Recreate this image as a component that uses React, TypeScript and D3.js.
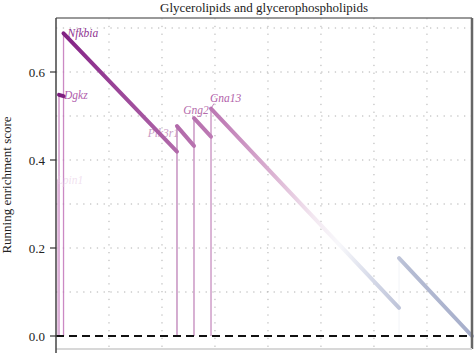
import React from "react";
import * as d3 from "d3";

// ---- data ----
const title = "Glycerolipids and glycerophospholipids";
const yLabel = "Running enrichment score";
const totalRanks = 7850;
const hitRanks = [28, 57, 142, 2283, 2604, 2925, 6473];
const esBefore = [0.0, 0.352, 0.545, 0.419, 0.432, 0.453, 0.064];
const esAfter = [0.355, 0.548, 0.688, 0.477, 0.495, 0.517, 0.177];
const endES = 0.0;
const hitLabels = ["Lpin1", "Dgkz", "Nfkbia", "Pik3r1", "Gng2", "Gna13", ""];
const yTicks = [0.0, 0.2, 0.4, 0.6];
const yGrid = [0.1, 0.2, 0.3, 0.4, 0.5, 0.6, 0.7];
const xGrid = [1000, 2000, 3000, 4000, 5000, 6000, 7000];

// ---- layout / style ----
const W = 474, H = 353;
const left = 56, right = 472, top = 18, bottom = 349;
const labelStyle = [
  { dx: -1, dy: 4, anchor: "start", color: "#e6c8e2", op: 0.55 },
  { dx: 5, dy: 4, anchor: "start", color: "#b160ad", op: 1 },
  { dx: 4, dy: 4, anchor: "start", color: "#8f3391", op: 1 },
  { dx: 2, dy: 11, anchor: "end", color: "#c99bc4", op: 1 },
  { dx: 2, dy: -4, anchor: "middle", color: "#b46cab", op: 1 },
  { dx: -1, dy: -7, anchor: "start", color: "#b262aa", op: 1 },
  { dx: 0, dy: 0, anchor: "start", color: "#eee", op: 1 },
];
const gradStops: [number, string][] = [
  [0, "#7a1a7c"],
  [0.05, "#8a2b8b"],
  [0.3, "#b36cab"],
  [0.4, "#c07eb7"],
  [0.52, "#dbb2d2"],
  [0.62, "#f3e8f1"],
  [0.68, "#f8f8fb"],
  [0.76, "#d5d9e8"],
  [0.85, "#b5bcd3"],
  [1, "#a6aecb"],
];

export default function App() {
  const x = d3.scaleLinear().domain([0, totalRanks]).range([left, right]);
  const y = d3.scaleLinear().domain([0, 0.6]).range([336, 72]);

  const colorScale = d3
    .scaleLinear<string>()
    .domain(gradStops.map((s) => s[0]))
    .range(gradStops.map((s) => s[1]))
    .interpolate(d3.interpolateRgb)
    .clamp(true);
  const colorAt = (px: number) => colorScale((px - left) / (right - left));

  const segs: [number, number, number, number][] = [];
  for (let i = 0; i < hitRanks.length; i++) {
    const r1 = i + 1 < hitRanks.length ? hitRanks[i + 1] : totalRanks;
    const e1 = i + 1 < hitRanks.length ? esBefore[i + 1] : endES;
    segs.push([hitRanks[i], esAfter[i], r1, e1]);
  }
  const line = d3
    .line<[number, number]>()
    .x((d) => x(d[0]))
    .y((d) => y(d[1]));

  const serif = "Liberation Serif";

  return (
    <svg
      width={W}
      height={H}
      style={{ position: "absolute", left: 0, top: 0, background: "#fff" }}
    >
      <defs>
        <linearGradient id="esg" gradientUnits="userSpaceOnUse" x1={left} x2={right} y1={0} y2={0}>
          {gradStops.map((s, i) => (
            <stop key={i} offset={s[0]} stopColor={s[1]} />
          ))}
        </linearGradient>
      </defs>
      <text x={264} y={12} textAnchor="middle" fontFamily={serif} fontSize={13} fill="#222">
        {title}
      </text>
      <text
        transform={`translate(11,185) rotate(-90)`}
        textAnchor="middle"
        fontFamily={serif}
        fontSize={13}
        fill="#222"
      >
        {yLabel}
      </text>
      {yGrid.map((v) => (
        <line key={"hy" + v} x1={left} x2={right} y1={y(v)} y2={y(v)} stroke="#b0b0b0" strokeWidth={1} strokeDasharray="1.3,5.5" />
      ))}
      {xGrid.map((v) => (
        <line key={"vx" + v} x1={x(v)} x2={x(v)} y1={top} y2={bottom} stroke="#b0b0b0" strokeWidth={1} strokeDasharray="1.3,6.5" />
      ))}
      {hitRanks.map((r, i) => (
        <line
          key={"h" + i}
          x1={x(r)}
          x2={x(r)}
          y1={y(0)}
          y2={y(esAfter[i])}
          stroke={i < 3 ? "#c274ba" : colorAt(x(r))}
          strokeOpacity={i === 6 ? 0.15 : i === 0 ? 0.4 : 0.85}
          strokeWidth={1.3}
        />
      ))}
      <line x1={left} x2={right} y1={y(0)} y2={y(0)} stroke="#111" strokeWidth={1.8} strokeDasharray="8,5" />
      {hitLabels.map((l, i) =>
        l ? (
          <text
            key={"l" + i}
            x={x(hitRanks[i]) + labelStyle[i].dx}
            y={y(esAfter[i]) + labelStyle[i].dy}
            textAnchor={labelStyle[i].anchor as any}
            fontFamily={serif}
            fontStyle="italic"
            fontSize={11.5}
            fill={labelStyle[i].color}
            fillOpacity={labelStyle[i].op}
          >
            {l}
          </text>
        ) : null
      )}
      {segs.map((s, i) => (
        <path
          key={"s" + i}
          d={line([
            [s[0], s[1]],
            [s[2], s[3]],
          ]) || ""}
          stroke={i === 0 ? "#e2c4de" : "url(#esg)"}
          strokeOpacity={i === 0 ? 0.5 : 1}
          strokeWidth={i === 0 ? 2 : 4}
          strokeLinecap="round"
          fill="none"
        />
      ))}
      <line x1={x(hitRanks[5])} y1={y(esAfter[5])} x2={x(hitRanks[5]) + 3} y2={y(esAfter[5]) - 5} stroke="#b262aa" strokeWidth={0.8} />
      <line x1={left} x2={right} y1={top} y2={top} stroke="#777" strokeWidth={1.5} />
      <line x1={right} x2={right} y1={top} y2={bottom} stroke="#666" strokeWidth={2.5} />
      <line x1={left} x2={right} y1={bottom} y2={bottom} stroke="#d8d8d8" strokeWidth={2} />
      <line x1={left} x2={left} y1={top} y2={H} stroke="#444" strokeWidth={1.5} />
      {yTicks.map((v) => (
        <g key={"t" + v}>
          <line x1={50} x2={left} y1={y(v)} y2={y(v)} stroke="#333" strokeWidth={1.2} />
          <text x={45} y={y(v) + 4.5} textAnchor="end" fontFamily={serif} fontSize={13} fill="#222">
            {d3.format(".1f")(v)}
          </text>
        </g>
      ))}
    </svg>
  );
}
